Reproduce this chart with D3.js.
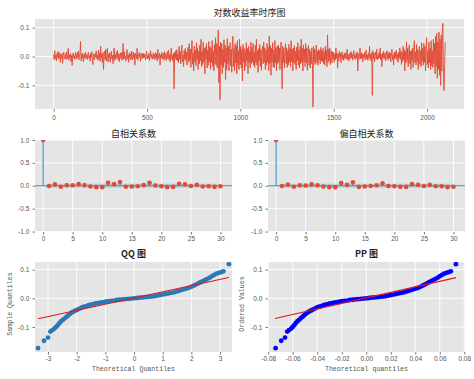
<!DOCTYPE html>
<html><head><meta charset="utf-8">
<script src="https://cdn.jsdelivr.net/npm/d3@7"></script>
<style>body{margin:0;background:#fff}svg{display:block}</style>
</head><body><svg id="c" width="474" height="379"></svg>
<script>
// ---------------- DATA ----------------
// daily log returns, one value for every 3rd observation (obs 0,3,6,...,2097)
const obsStep = 3;
const logReturns = [
.008,-.012,.02,-.006,.004,-.015,.011,-.003,.018,-.009,-.002,.013,-.02,.007,-.005,.01,-.024,.006,.015,-.008,
-.004,.009,-.011,.016,.002,-.007,.028,-.013,.005,-.003,.011,-.017,.004,-.031,.008,.012,-.006,.003,-.01,.014,
.006,-.009,.013,-.004,.019,-.012,.002,.01,.052,-.015,.007,-.005,.012,-.018,.004,.009,-.008,.015,-.003,.006,
-.011,.007,.014,-.006,.003,-.016,.01,-.004,.017,-.009,-.028,.008,.005,-.012,.011,-.002,.019,-.007,.004,-.013,
.022,-.008,.012,-.017,.035,-.005,.009,-.021,.014,-.045,.006,.018,-.011,.025,-.015,.004,.028,-.019,.008,-.006,
.013,-.02,.007,.018,-.009,.004,-.025,.011,.03,-.014,.006,-.008,.016,-.003,.021,-.012,.009,-.018,.005,.012,
-.007,.015,-.013,.004,.045,-.01,.017,-.006,.002,-.016,.011,.024,-.009,.005,-.02,.013,-.004,.009,-.012,.019,
.003,-.011,.016,-.005,.008,-.03,.012,.004,-.007,.028,-.013,.006,.01,-.004,.014,-.017,.002,.009,-.008,.012,
-.005,.01,-.003,.007,-.012,.004,.018,-.008,.003,-.006,.011,-.014,.005,.02,-.004,.008,-.01,.003,.013,-.007,
.006,-.011,.014,-.004,.009,-.016,.025,-.007,.003,.011,-.03,.006,-.005,.015,-.009,.004,.012,-.013,.018,-.006,
.009,-.014,.004,.017,-.008,.022,-.011,.006,-.018,.013,.03,-.009,.005,-.016,.011,-.112,.014,-.007,.02,-.012,
.024,-.015,.008,-.022,.035,-.01,.018,-.026,.012,.04,-.018,.006,-.035,.021,-.009,.028,-.014,.016,-.03,.011,
.032,-.02,.045,-.014,.025,-.038,.015,.055,-.027,.012,-.05,.036,-.018,.022,-.032,.048,-.012,.03,-.045,.019,
-.025,.04,-.015,.06,-.035,.018,-.028,.05,-.02,.028,-.06,.033,-.012,.045,-.04,.022,-.03,.052,-.018,.035,
-.045,.03,-.022,.055,-.035,.018,-.05,.04,-.025,.065,-.03,.045,-.04,.028,.092,-.09,.035,-.15,.05,-.03,
.045,-.06,.025,-.038,.058,-.02,.04,-.08,.03,-.045,.062,-.025,.035,-.05,.018,.048,-.032,.025,-.055,.04,
.07,-.035,.028,-.05,.045,-.022,.038,-.06,.055,-.03,.02,-.045,.06,-.028,.035,-.04,.025,-.085,.042,-.02,
.03,-.05,.022,-.035,.048,-.015,.028,-.06,.035,-.02,.018,-.04,.05,-.025,.032,-.018,.045,-.03,.015,-.038,
.038,-.022,.06,-.03,.02,-.055,.028,-.015,.042,-.035,.025,-.048,.018,.035,-.025,.05,-.02,.03,-.045,.022,
-.03,.045,-.02,.032,-.05,.07,-.025,.038,-.065,.028,-.018,.048,-.035,.022,-.04,.055,-.022,.03,-.05,.035,
-.025,.04,-.018,.03,-.045,.022,.05,-.03,-.112,.035,-.02,.028,-.04,.018,.045,-.025,.03,-.038,.02,-.03,
.042,-.02,.028,-.035,.055,-.018,.025,-.05,.03,-.022,.038,-.028,.018,-.045,.032,-.015,.048,-.03,.022,-.04,
.035,-.025,.06,-.02,.028,-.05,.04,-.018,.025,-.035,.045,-.022,.03,-.048,.02,.038,-.03,.025,-.04,.018,
-.025,.03,-.02,-.175,.035,-.018,.025,-.028,.015,.04,-.022,.018,-.03,.026,-.012,.02,-.025,.032,-.015,.022,
-.018,.028,-.025,.015,-.03,.035,-.012,.022,-.035,.075,-.02,.025,-.015,.03,-.028,.012,.02,-.022,.016,-.01,
.014,-.02,.008,-.012,.03,-.006,.011,-.04,.009,-.015,.018,-.004,.012,-.022,.007,.016,-.01,.005,-.014,.011,
-.006,.013,-.009,.004,.025,-.011,.007,-.016,.003,.012,-.008,.017,-.005,.009,-.013,.006,.02,-.007,.004,-.01,
.012,-.005,.016,-.05,.008,-.011,.004,.03,-.009,.014,-.006,.01,-.018,.007,-.003,.015,-.012,.005,.022,-.008,
.006,-.014,.011,-.004,.035,-.01,.008,-.016,.013,-.135,.02,-.007,.012,-.018,.005,.016,-.009,.025,-.011,.004,
-.008,.014,-.005,.03,-.012,.007,-.035,.011,-.004,.018,-.009,.006,.013,-.015,.004,.02,-.007,.01,-.012,.016,
-.006,.012,-.018,.009,.025,-.011,.005,-.03,.014,-.008,.017,-.004,.022,-.013,.008,-.02,.015,-.006,.03,-.01,
.02,-.028,.014,-.018,.035,-.012,.025,-.05,.018,-.022,.05,-.015,.028,-.035,.012,.04,-.025,.018,-.045,.022,
-.015,.03,-.038,.02,.055,-.022,.015,-.03,.042,-.018,.025,-.045,.012,.035,-.028,.02,-.035,.048,-.016,.028,
-.03,.045,-.02,.035,-.05,.025,.065,-.028,.018,-.04,.05,-.022,.03,-.045,.055,-.032,.02,-.038,.06,-.025,
.045,-.06,.07,-.035,.08,-.075,.05,-.045,.085,-.065,.06,-.1,.075,-.05,.09,.115,-.08,-.118,-.04,.05
];
const tsXTicks = [0, 500, 1000, 1500, 2000];
const tsXLabels = ["0", "500", "1000", "1500", "2000"];
const tsYTicks = [-0.1, 0.0, 0.1];
const tsYLabels = ["-0.1", "0.0", "0.1"];

const lags = [0,1,2,3,4,5,6,7,8,9,10,11,12,13,14,15,16,17,18,19,20,21,22,23,24,25,26,27,28,29,30];
const acfValues = [1.0,-0.005,0.03,-0.02,0.01,0.01,0.035,0.015,-0.015,-0.03,-0.03,0.065,0.035,0.08,-0.02,-0.015,-0.01,0.015,0.065,0.005,-0.01,-0.03,-0.025,0.045,0.03,-0.005,0.02,-0.015,-0.01,-0.025,-0.01];
const pacfValues = [1.0,-0.005,0.025,-0.02,0.01,0.005,0.03,0.01,-0.015,-0.03,-0.035,0.06,0.02,0.075,-0.025,-0.015,-0.005,0.01,0.055,-0.005,-0.01,-0.02,-0.025,0.035,0.02,-0.005,0.02,-0.01,-0.01,-0.03,-0.02];
const confBand = 0.043;
const corrXTicks = [0, 5, 10, 15, 20, 25, 30];
const corrXLabels = ["0", "5", "10", "15", "20", "25", "30"];
const corrYTicks = [-1.0, -0.5, 0.0, 0.5, 1.0];
const corrYLabels = ["-1.0", "-0.5", "0.0", "0.5", "1.0"];

const qqTheoretical = [-3.35,-3.14,-3.00,-2.92,-2.85,-2.78,-2.72,-2.66,-2.60,-2.54,-2.48,-2.42,-2.36,-2.30,-2.24,-2.18,-2.12,-2.05,-1.98,-1.90,-1.82,-1.74,-1.66,-1.58,-1.50,-1.42,-1.34,-1.26,-1.18,-1.10,-1.00,-0.90,-0.80,-0.70,-0.60,-0.50,-0.40,-0.30,-0.20,-0.10,0,0.10,0.20,0.30,0.40,0.50,0.60,0.70,0.80,0.90,1.00,1.10,1.20,1.30,1.40,1.50,1.60,1.70,1.80,1.90,2.00,2.08,2.16,2.24,2.32,2.40,2.48,2.56,2.64,2.72,2.80,2.88,2.96,3.04,3.12,3.31];
const orderedValues = [-.174,-.148,-.137,-.116,-.111,-.106,-.100,-.094,-.086,-.080,-.075,-.070,-.065,-.060,-.055,-.050,-.047,-.043,-.040,-.036,-.032,-.029,-.027,-.024,-.022,-.020,-.018,-.017,-.015,-.014,-.012,-.010,-.009,-.008,-.006,-.005,-.004,-.003,-.002,-.001,0,.001,.002,.003,.004,.005,.006,.007,.009,.011,.013,.015,.017,.019,.021,.024,.027,.030,.033,.036,.040,.044,.048,.052,.056,.060,.064,.068,.072,.077,.082,.086,.089,.091,.094,.119];
const ppTheoretical = [-.0740,-.0694,-.0663,-.0645,-.0630,-.0614,-.0601,-.0588,-.0575,-.0561,-.0548,-.0535,-.0522,-.0508,-.0495,-.0482,-.0469,-.0453,-.0438,-.0420,-.0402,-.0385,-.0367,-.0349,-.0332,-.0314,-.0296,-.0278,-.0261,-.0243,-.0221,-.0199,-.0177,-.0155,-.0133,-.0111,-.0088,-.0066,-.0044,-.0022,0,.0022,.0044,.0066,.0088,.0111,.0133,.0155,.0177,.0199,.0221,.0243,.0265,.0287,.0309,.0332,.0354,.0376,.0398,.0420,.0442,.0460,.0477,.0495,.0513,.0530,.0548,.0566,.0583,.0601,.0619,.0636,.0654,.0672,.0690,.0732];
const qqLine = [[-3.35, -0.0715], [3.31, 0.0725]];
const ppLine = [[-0.0745, -0.0705], [0.0733, 0.0722]];
const qqXTicks = [-3, -2, -1, 0, 1, 2, 3];
const qqXLabels = ["-3", "-2", "-1", "0", "1", "2", "3"];
const ppXTicks = [-0.08, -0.06, -0.04, -0.02, 0.0, 0.02, 0.04, 0.06, 0.08];
const ppXLabels = ["-0.08", "-0.06", "-0.04", "-0.02", "0.00", "0.02", "0.04", "0.06", "0.08"];
const qqYTicks = [-0.1, 0.0, 0.1];
const qqYLabels = ["-0.1", "0.0", "0.1"];

// ---------------- DRAWING ----------------
const svg = d3.select("#c");
const FONT_TICK = "'Liberation Sans', Arial, sans-serif";
const FONT_LABEL = "'Liberation Mono', 'DejaVu Sans Mono', monospace";
const FONT_CJK = "'Noto Sans CJK SC', 'Noto Sans', sans-serif";
const BG = "#E5E5E5", GRID = "#FFFFFF", TXT = "#555555";
let clipId = 0;

function panel(c) {
  const x = d3.scaleLinear().domain(c.xDom).range([c.x0, c.x1]);
  const y = d3.scaleLinear().domain(c.yDom).range([c.y1, c.y0]);
  const g = svg.append("g");
  g.append("rect").attr("x", c.x0).attr("y", c.y0).attr("width", c.x1 - c.x0).attr("height", c.y1 - c.y0).attr("fill", BG);
  g.selectAll(null).data(c.xTicks).join("line")
    .attr("x1", d => x(d)).attr("x2", d => x(d)).attr("y1", c.y0).attr("y2", c.y1)
    .attr("stroke", GRID).attr("stroke-width", 0.9);
  g.selectAll(null).data(c.yTicks).join("line")
    .attr("y1", d => y(d)).attr("y2", d => y(d)).attr("x1", c.x0).attr("x2", c.x1)
    .attr("stroke", GRID).attr("stroke-width", 0.9);
  const ax = g.append("g").attr("transform", `translate(0,${c.y1})`)
    .call(d3.axisBottom(x).tickValues(c.xTicks).tickFormat((d, i) => c.xLabels[i]).tickSize(2.5).tickPadding(c.xPad || 2.2));
  const ay = g.append("g").attr("transform", `translate(${c.x0},0)`)
    .call(d3.axisLeft(y).tickValues(c.yTicks).tickFormat((d, i) => c.yLabels[i]).tickSize(2.5).tickPadding(3.2));
  [ax, ay].forEach(a => {
    a.select(".domain").remove();
    a.selectAll(".tick line").attr("stroke", TXT).attr("stroke-width", 0.8);
    a.selectAll(".tick text").attr("fill", TXT).style("font-family", FONT_TICK).style("font-size", "6.5px");
  });
  const id = "clip" + (clipId++);
  svg.append("clipPath").attr("id", id).append("rect")
    .attr("x", c.x0).attr("y", c.y0).attr("width", c.x1 - c.x0).attr("height", c.y1 - c.y0);
  const plot = g.append("g").attr("clip-path", `url(#${id})`);
  if (c.title) {
    g.append("text").attr("x", (c.x0 + c.x1) / 2).attr("y", c.titleY).attr("text-anchor", "middle")
      .attr("fill", "#222").style("font-family", FONT_CJK).style("font-size", "9px")
      .style("font-weight", c.titleBold ? "bold" : "normal").text(c.title);
  }
  if (c.xLabel) {
    g.append("text").attr("x", (c.x0 + c.x1) / 2).attr("y", c.xLabelY).attr("text-anchor", "middle")
      .attr("fill", TXT).style("font-family", FONT_LABEL).style("font-size", "6.6px").text(c.xLabel);
  }
  if (c.yLabel) {
    g.append("text").attr("transform", `translate(${c.yLabelX},${(c.y0 + c.y1) / 2 - 3}) rotate(-90)`)
      .attr("text-anchor", "middle").attr("fill", TXT)
      .style("font-family", FONT_LABEL).style("font-size", "6.6px").text(c.yLabel);
  }
  return { x, y, plot };
}

// ---- Time series ----
{
  const p = panel({ x0: 35, x1: 464, y0: 19, y1: 109, xDom: [-100, 2198], yDom: [-0.182, 0.130],
    xTicks: tsXTicks, xLabels: tsXLabels, yTicks: tsYTicks, yLabels: tsYLabels, xPad: 3.5,
    title: "对数收益率时序图", titleY: 16 });
  const line = d3.line().x((d, i) => p.x(i * obsStep)).y(d => p.y(d));
  p.plot.append("path").datum(logReturns).attr("d", line)
    .attr("fill", "none").attr("stroke", "#E24A33").attr("stroke-width", 0.9).attr("stroke-linejoin", "round");
}

// ---- ACF / PACF ----
function corrPanel(x0, x1, vals, title) {
  const p = panel({ x0, x1, y0: 140, y1: 232, xDom: [-1.37, 31.95], yDom: [-1.01, 1.0],
    xTicks: corrXTicks, xLabels: corrXLabels, yTicks: corrYTicks, yLabels: corrYLabels,
    title, titleY: 137 });
  const band = lags.map(l => ({ l, w: l === 0 ? 0 : confBand }));
  p.plot.append("path").datum(band)
    .attr("d", d3.area().x(d => p.x(d.l)).y0(d => p.y(-d.w)).y1(d => p.y(d.w)))
    .attr("fill", "#348ABD").attr("fill-opacity", 0.25);
  p.plot.append("line").attr("x1", x0).attr("x2", x1).attr("y1", p.y(0)).attr("y2", p.y(0))
    .attr("stroke", "#348ABD").attr("stroke-width", 1.1);
  p.plot.selectAll(null).data(lags).join("line")
    .attr("x1", l => p.x(l)).attr("x2", l => p.x(l)).attr("y1", p.y(0)).attr("y2", (l, i) => p.y(vals[i]))
    .attr("stroke", "#348ABD").attr("stroke-width", 1.1);
  p.plot.selectAll(null).data(lags).join("circle")
    .attr("cx", l => p.x(l)).attr("cy", (l, i) => p.y(vals[i])).attr("r", 2.3)
    .attr("fill", "#E24A33");
}
corrPanel(35, 232, acfValues, "自相关系数");
corrPanel(268, 465, pacfValues, "偏自相关系数");

// ---- QQ ----
{
  const p = panel({ x0: 35, x1: 232, y0: 262, y1: 352, xDom: [-3.455, 3.4185], yDom: [-0.1873, 0.1266],
    xTicks: qqXTicks, xLabels: qqXLabels, yTicks: qqYTicks, yLabels: qqYLabels,
    title: "QQ 图", titleY: 257, titleBold: true,
    xLabel: "Theoretical Quantiles", xLabelY: 371, yLabel: "Sample Quantiles", yLabelX: 12 });
  p.plot.selectAll(null).data(qqTheoretical).join("circle")
    .attr("cx", d => p.x(d)).attr("cy", (d, i) => p.y(orderedValues[i])).attr("r", 2.4)
    .attr("fill", "#2a78b8");
  p.plot.append("path").datum(qqLine).attr("d", d3.line().x(d => p.x(d[0])).y(d => p.y(d[1])))
    .attr("stroke", "#e3171c").attr("stroke-width", 1.1).attr("fill", "none");
}

// ---- PP ----
{
  const p = panel({ x0: 268, x1: 465, y0: 262, y1: 352, xDom: [-0.0802, 0.0806], yDom: [-0.1873, 0.1266],
    xTicks: ppXTicks, xLabels: ppXLabels, yTicks: qqYTicks, yLabels: qqYLabels,
    title: "PP 图", titleY: 257, titleBold: true,
    xLabel: "Theoretical quantiles", xLabelY: 371, yLabel: "Ordered Values", yLabelX: 244 });
  p.plot.selectAll(null).data(ppTheoretical).join("circle")
    .attr("cx", d => p.x(d)).attr("cy", (d, i) => p.y(orderedValues[i])).attr("r", 2.4)
    .attr("fill", "#0000ff");
  p.plot.append("path").datum(ppLine).attr("d", d3.line().x(d => p.x(d[0])).y(d => p.y(d[1])))
    .attr("stroke", "#e3171c").attr("stroke-width", 1.1).attr("fill", "none");
}
</script>
</body></html>
